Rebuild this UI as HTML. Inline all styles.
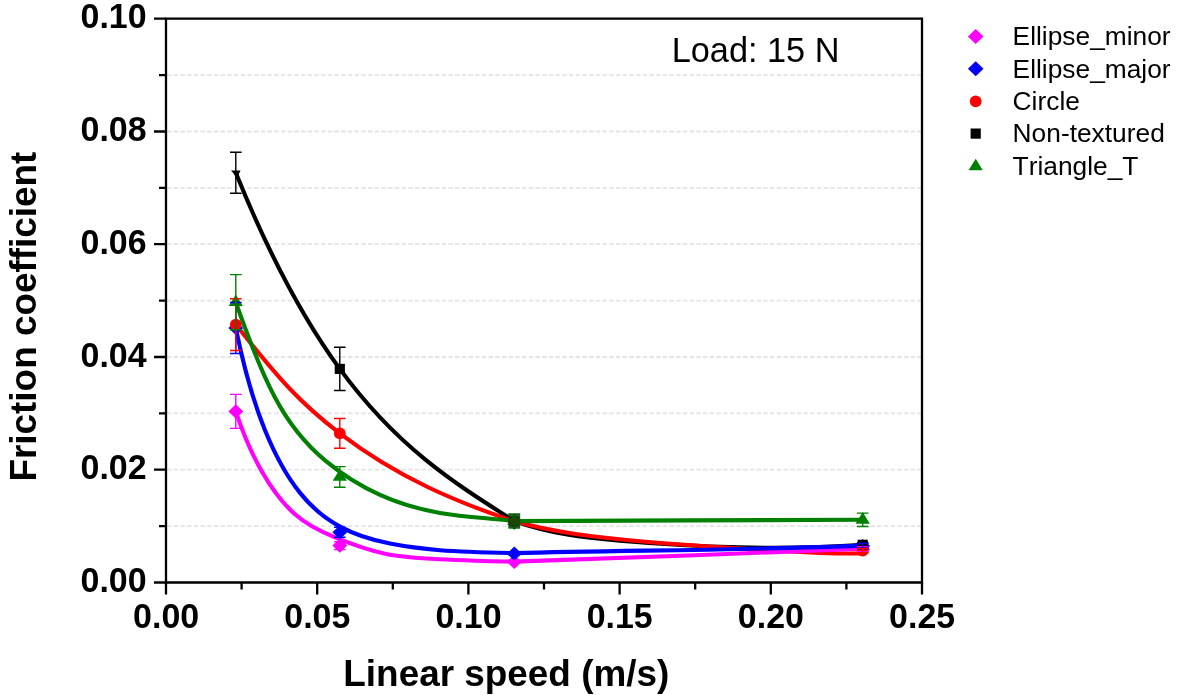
<!DOCTYPE html>
<html lang="en"><head><meta charset="utf-8"><title>Friction coefficient vs linear speed</title>
<style>
html,body{margin:0;padding:0;background:#fff;}
body{width:1185px;height:695px;overflow:hidden;}
svg{display:block;}
text{font-family:"Liberation Sans",sans-serif;fill:#000;font-kerning:none;font-variant-ligatures:none;}
.tk{font-size:35px;font-weight:bold;}
.lg{font-size:25.4px;}
.tt{font-size:36.9px;font-weight:bold;}
</style></head><body>
<svg width="1185" height="695" viewBox="0 0 1185 695">
<rect width="1185" height="695" fill="#fff"/>
<path id="grid" d="M167.0 526.1H921.0M167.0 469.7H921.0M167.0 413.4H921.0M167.0 357.0H921.0M167.0 300.6H921.0M167.0 244.2H921.0M167.0 187.8H921.0M167.0 131.5H921.0M167.0 75.1H921.0" stroke="#e4e4e4" stroke-width="1.8" stroke-dasharray="4.4 2.3" fill="none"/>
<path id="line-black" d="M235.8 172.8C270.5 258.5 305.1 321.5 339.8 368.9C398.0 448.4 456.1 484.3 514.3 521.1C549.5 533.8 584.8 537.7 620.0 540.7C660.0 544.1 700.0 546.4 740.0 547.4C780.9 548.3 821.8 547.7 862.7 544.8" stroke="#000000" stroke-width="4.1" fill="none" stroke-linejoin="round"/>
<path id="line-red" d="M235.8 324.6C253.9 347.5 271.9 370.1 290.0 389.0C306.6 406.4 323.2 420.7 339.8 433.4C398.0 477.8 456.1 502.0 514.3 521.3C556.2 532.9 598.1 537.6 640.0 541.3C686.7 545.4 733.3 548.2 780.0 551.0C807.6 552.6 835.1 554.2 862.7 553.4" stroke="#ff0000" stroke-width="4.1" fill="none" stroke-linejoin="round"/>
<path id="line-green" d="M235.8 302.2C248.9 339.5 261.9 372.9 275.0 397.5C291.7 429.0 308.3 446.4 325.0 460.3C343.3 475.5 361.7 486.6 380.0 494.8C400.0 503.8 420.0 509.4 440.0 512.9C464.8 517.2 489.5 518.1 514.3 521.1C630.4 521.5 746.6 519.2 862.7 519.7" stroke="#008000" stroke-width="4.1" fill="none" stroke-linejoin="round"/>
<path id="line-magenta" d="M235.8 411.4C244.5 438.1 253.3 456.6 262.0 471.7C273.0 490.8 284.0 504.6 295.0 514.3C308.3 526.1 321.7 532.0 335.0 537.4C351.7 544.2 368.3 550.2 385.0 553.7C403.3 557.6 421.7 558.4 440.0 559.2C464.8 560.3 489.5 561.5 514.3 561.6C630.4 558.4 746.6 552.7 862.7 548.8" stroke="#ff00ff" stroke-width="4.1" fill="none" stroke-linejoin="round"/>
<path id="line-blue" d="M235.8 328.0C245.5 376.0 255.3 406.3 265.0 430.3C276.7 458.9 288.3 478.4 300.0 492.9C313.3 509.5 326.7 519.4 340.0 526.6C356.7 535.6 373.3 540.3 390.0 543.6C406.7 546.9 423.3 548.9 440.0 550.2C464.8 552.1 489.5 552.6 514.3 553.1C630.4 550.3 746.6 550.1 862.7 545.6" stroke="#0000ff" stroke-width="4.1" fill="none" stroke-linejoin="round"/>
<g id="pts-magenta">
<path d="M235.8 404.3L243.2 411.4L235.8 418.5L228.4 411.4Z" fill="#ff00ff"/>
<path d="M339.8 538.5L347.2 545.6L339.8 552.7L332.4 545.6Z" fill="#ff00ff"/>
<path d="M514.3 554.8L521.7 561.9L514.3 569.0L506.9 561.9Z" fill="#ff00ff"/>
<path d="M862.7 542.1L870.1 549.2L862.7 556.3L855.3 549.2Z" fill="#ff00ff"/>
</g>
<g id="pts-blue">
<path d="M235.8 320.9L243.2 328.0L235.8 335.1L228.4 328.0Z" fill="#0000ff"/>
<path d="M339.8 525.2L347.2 532.3L339.8 539.4L332.4 532.3Z" fill="#0000ff"/>
<path d="M514.3 546.5L521.7 553.6L514.3 560.7L506.9 553.6Z" fill="#0000ff"/>
<path d="M862.7 538.9L870.1 546.0L862.7 553.1L855.3 546.0Z" fill="#0000ff"/>
</g>
<g id="pts-red">
<circle cx="235.8" cy="324.6" r="5.9" fill="#ff0000"/>
<circle cx="339.8" cy="433.4" r="5.9" fill="#ff0000"/>
<circle cx="514.3" cy="521.3" r="5.9" fill="#ff0000"/>
<circle cx="862.7" cy="550.7" r="5.9" fill="#ff0000"/>
</g>
<g id="pts-black">
<path d="M231.0 170.5h9.6l-3.6 7z" fill="#000000"/>
<rect x="334.7" y="363.8" width="10.2" height="10.2" fill="#000000"/>
<rect x="509.2" y="516.0" width="10.2" height="10.2" fill="#000000"/>
<rect x="857.6" y="539.7" width="10.2" height="10.2" fill="#000000"/>
</g>
<g id="pts-green">
<path d="M235.8 294.5L242.9 306.1L228.7 306.1Z" fill="#008000"/>
<path d="M339.8 469.2L346.9 480.8L332.7 480.8Z" fill="#008000"/>
<path d="M514.3 513.4L521.4 525.0L507.2 525.0Z" fill="#008000"/>
<path d="M862.7 512.1L869.8 523.7L855.6 523.7Z" fill="#008000"/>
</g>
<g id="errorbars">
<path d="M235.8 152.3V193.3M230.0 152.3h11.6M230.0 193.3h11.6M339.8 347.3V390.5M334.0 347.3h11.6M334.0 390.5h11.6M514.3 519.6V522.6M508.5 519.6h11.6M508.5 522.6h11.6M862.7 542.8V546.8M856.9 542.8h11.6M856.9 546.8h11.6" stroke="#000000" stroke-width="1.4" fill="none"/>
<path d="M235.8 394.4V428.4M230.0 394.4h11.6M230.0 428.4h11.6M339.8 541.6V549.6M334.0 541.6h11.6M334.0 549.6h11.6M514.3 560.4V563.4M508.5 560.4h11.6M508.5 563.4h11.6M862.7 546.7V551.7M856.9 546.7h11.6M856.9 551.7h11.6" stroke="#ff00ff" stroke-width="1.4" fill="none"/>
<path d="M235.8 302.5V353.5M230.0 302.5h11.6M230.0 353.5h11.6M339.8 527.3V537.3M334.0 527.3h11.6M334.0 537.3h11.6M514.3 552.1V555.1M508.5 552.1h11.6M508.5 555.1h11.6M862.7 543.5V548.5M856.9 543.5h11.6M856.9 548.5h11.6" stroke="#0000ff" stroke-width="1.4" fill="none"/>
<path d="M235.8 298.7V350.5M230.0 298.7h11.6M230.0 350.5h11.6M339.8 418.5V448.3M334.0 418.5h11.6M334.0 448.3h11.6M514.3 519.8V522.8M508.5 519.8h11.6M508.5 522.8h11.6M862.7 548.7V552.7M856.9 548.7h11.6M856.9 552.7h11.6" stroke="#ff0000" stroke-width="1.4" fill="none"/>
<path d="M235.8 274.6V329.8M230.0 274.6h11.6M230.0 329.8h11.6M339.8 466.6V487.2M334.0 466.6h11.6M334.0 487.2h11.6M514.3 514.1V528.1M508.5 514.1h11.6M508.5 528.1h11.6M862.7 513.1V526.5M856.9 513.1h11.6M856.9 526.5h11.6" stroke="#008000" stroke-width="1.4" fill="none"/>
</g>
<path d="M508.3 513.6h11.9v14.3h-4l-2 2.2l-2-2.2h-3.9z" fill="#0a470a" fill-opacity="0.82"/>
<path id="frame" d="M166.0 18.7H922.0V582.5H166.0Z" stroke="#000" stroke-width="2.3" fill="none"/>
<path id="ticks" d="M166.0 582.5v12M317.2 582.5v12M468.4 582.5v12M619.6 582.5v12M770.8 582.5v12M922.0 582.5v12M241.6 582.5v7M392.8 582.5v7M544.0 582.5v7M695.2 582.5v7M846.4 582.5v7M166.0 582.5h-12M166.0 469.7h-12M166.0 357.0h-12M166.0 244.2h-12M166.0 131.5h-12M166.0 18.7h-12M166.0 526.1h-7M166.0 413.4h-7M166.0 300.6h-7M166.0 187.8h-7M166.0 75.1h-7" stroke="#000" stroke-width="2.3" fill="none"/>
<text class="tk" transform="translate(146.6 592.1) scale(0.97 1.02)" text-anchor="end">0.00</text>
<text class="tk" transform="translate(146.6 479.3) scale(0.97 1.02)" text-anchor="end">0.02</text>
<text class="tk" transform="translate(146.6 366.6) scale(0.97 1.02)" text-anchor="end">0.04</text>
<text class="tk" transform="translate(146.6 253.8) scale(0.97 1.02)" text-anchor="end">0.06</text>
<text class="tk" transform="translate(146.6 141.1) scale(0.97 1.02)" text-anchor="end">0.08</text>
<text class="tk" transform="translate(146.6 28.3) scale(0.97 1.02)" text-anchor="end">0.10</text>
<text class="tk" transform="translate(166.1 628.2) scale(0.97 1.02)" text-anchor="middle">0.00</text>
<text class="tk" transform="translate(317.3 628.2) scale(0.97 1.02)" text-anchor="middle">0.05</text>
<text class="tk" transform="translate(468.5 628.2) scale(0.97 1.02)" text-anchor="middle">0.10</text>
<text class="tk" transform="translate(619.7 628.2) scale(0.97 1.02)" text-anchor="middle">0.15</text>
<text class="tk" transform="translate(770.9 628.2) scale(0.97 1.02)" text-anchor="middle">0.20</text>
<text class="tk" transform="translate(922.1 628.2) scale(0.97 1.02)" text-anchor="middle">0.25</text>
<text class="tt" x="506.3" y="686.3" text-anchor="middle">Linear speed (m/s)</text>
<text class="tt" transform="translate(36.3 316.6) rotate(-90)" text-anchor="middle">Friction coefficient</text>
<text transform="translate(755.6 61.6)" text-anchor="middle" style="font-size:34.3px">Load: 15 N</text>
<path d="M975.7 28.9L983.5 36.4L975.7 43.9L967.9 36.4Z" fill="#ff00ff"/>
<text class="lg" transform="translate(1012.6 44.8) scale(1.037 1)">Ellipse_minor</text>
<path d="M975.7 61.3L983.5 68.8L975.7 76.3L967.9 68.8Z" fill="#0000ff"/>
<text class="lg" transform="translate(1012.6 77.7) scale(1.037 1)">Ellipse_major</text>
<circle cx="975.7" cy="101.3" r="5.9" fill="#ff0000"/>
<text class="lg" transform="translate(1012.6 110) scale(1.037 1)">Circle</text>
<rect x="970.6" y="128.5" width="10.2" height="10.2" fill="#000000"/>
<text class="lg" transform="translate(1012.6 142.4) scale(1.037 1)">Non-textured</text>
<path d="M975.7 158.8L982.8 170.3L968.6 170.3Z" fill="#008000"/>
<text class="lg" transform="translate(1012.6 174.8) scale(1.037 1)">Triangle_T</text>
</svg></body></html>
